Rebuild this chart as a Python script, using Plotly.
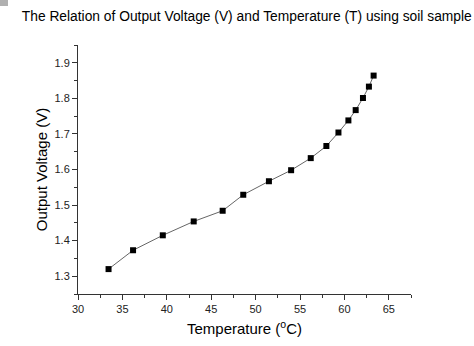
import plotly.graph_objects as go

temperature = [33.44, 36.2, 39.55, 43.03, 46.29, 48.61, 51.5, 54.0, 56.21, 57.97,
               59.33, 60.45, 61.27, 62.09, 62.76, 63.29]
voltage = [1.320, 1.373, 1.415, 1.454, 1.484, 1.529, 1.567, 1.598, 1.632, 1.666,
           1.704, 1.738, 1.767, 1.801, 1.833, 1.864]

title = "The Relation of Output Voltage (V) and Temperature (T) using soil sample"
x_title = "Temperature (<sup>o</sup>C)"
y_title = "Output Voltage (V)"

fig = go.Figure()
fig.add_trace(go.Scatter(
    x=temperature, y=voltage, mode="lines+markers",
    line=dict(color="#666666", width=1),
    marker=dict(symbol="square", size=6, color="black"),
    showlegend=False,
))

font = "Liberation Sans, Arial, sans-serif"
fig.update_layout(
    width=474, height=346,
    margin=dict(l=78, r=63, t=45, b=52),
    paper_bgcolor="white", plot_bgcolor="white",
    font=dict(family=font, color="black"),
    title=dict(text=title, x=0.046, xanchor="left", y=0.952, yanchor="middle",
               font=dict(size=13.8, family=font, color="black")),
    xaxis=dict(
        range=[30, 67.5], tickvals=[30, 35, 40, 45, 50, 55, 60, 65],
        showgrid=False, zeroline=False, showline=True, linecolor="#333333", linewidth=1,
        ticks="outside", ticklen=5, tickcolor="#333333",
        tickfont=dict(size=11, family=font, color="#222222"),
        minor=dict(dtick=2.5, tick0=30, ticks="outside", ticklen=3, tickcolor="#333333"),
        title=dict(text=x_title, font=dict(size=15, family=font), standoff=9),
    ),
    yaxis=dict(
        range=[1.25, 1.95], tickvals=[1.3, 1.4, 1.5, 1.6, 1.7, 1.8, 1.9],
        ticktext=["1.3", "1.4", "1.5", "1.6", "1.7", "1.8", "1.9"],
        showgrid=False, zeroline=False, showline=True, linecolor="#333333", linewidth=1,
        ticks="outside", ticklen=5, tickcolor="#333333",
        tickfont=dict(size=11, family=font, color="#222222"),
        minor=dict(dtick=0.05, tick0=1.25, ticks="outside", ticklen=3, tickcolor="#333333"),
        title=dict(text=y_title, font=dict(size=15, family=font), standoff=3),
    ),
    shapes=[dict(type="rect", xref="paper", yref="paper", x0=-78/333, x1=-70/333,
                 y0=1 + 39/249, y1=1 + 45/249, fillcolor="#b0b0b0", line=dict(width=0))],
)

fig.write_html("out.html")
